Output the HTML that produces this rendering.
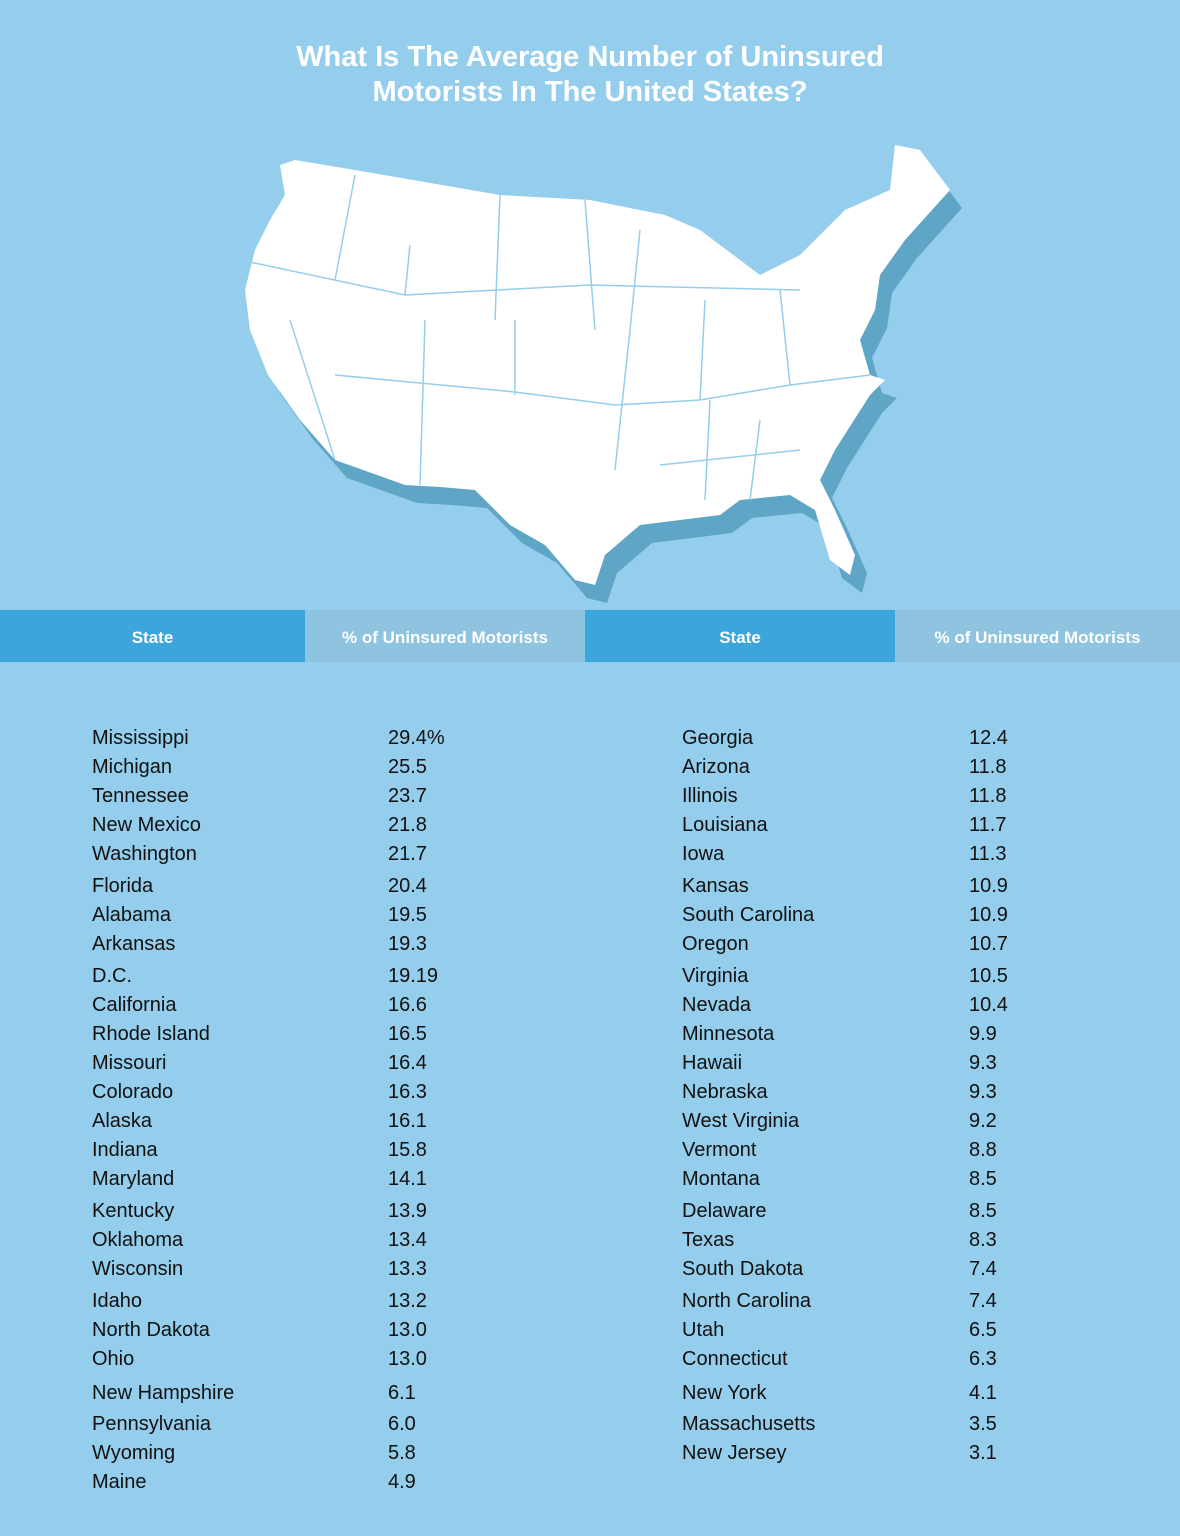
<!DOCTYPE html>
<html><head><meta charset="utf-8"><style>
body{margin:0;width:1180px;height:1536px;background:#95CEEC;position:relative;overflow:hidden;font-family:"Liberation Sans",sans-serif;}
.t{position:absolute;left:0;width:1180px;text-align:center;color:#fff;font-weight:bold;font-size:29px;line-height:35px;top:40px;}
.h{position:absolute;top:610px;height:52px;line-height:55px;color:#fff;font-size:17px;font-weight:bold;text-align:center;}
.r{position:absolute;font-size:20px;color:#111;line-height:20px;}
</style></head><body>
<div class="t">What Is The Average Number of Uninsured<br>Motorists In The United States?</div>
<svg width="1180" height="620" style="position:absolute;left:0;top:0">
<g transform="translate(12,18)"><polygon fill="#5FA5C6" points="295,160 355,170 500,195 590,200 665,215 700,230 760,275 800,255 845,210 890,190 895,145 920,150 950,190 905,240 880,275 875,310 860,340 870,375 885,380 870,395 835,450 820,480 835,510 855,555 850,575 830,560 815,510 790,495 740,500 720,515 680,520 640,525 605,555 595,585 575,580 545,545 510,525 475,490 440,487 405,485 335,460 300,420 268,375 250,330 245,290 255,250 270,220 285,195 280,165"/></g>
<polygon fill="#fff" points="295,160 355,170 500,195 590,200 665,215 700,230 760,275 800,255 845,210 890,190 895,145 920,150 950,190 905,240 880,275 875,310 860,340 870,375 885,380 870,395 835,450 820,480 835,510 855,555 850,575 830,560 815,510 790,495 740,500 720,515 680,520 640,525 605,555 595,585 575,580 545,545 510,525 475,490 440,487 405,485 335,460 300,420 268,375 250,330 245,290 255,250 270,220 285,195 280,165"/>
<g stroke="#95CEEC" stroke-width="1.5" fill="none">
<path d="M250,262 L405,295 L590,285 M290,320 L335,460 M355,175 L335,280 M410,245 L405,295 M500,195 L495,320 M585,200 L595,330 M425,320 L420,485 M335,375 L515,392 L615,405 L700,400 L790,385 L870,375 M515,320 L515,395 M640,230 L630,330 L615,470 M705,300 L700,400 M780,290 L790,385 M590,285 L800,290 M660,465 L800,450 M710,400 L705,500 M760,420 L750,500"/>
</g>
</svg>
<div class="h" style="left:0;width:305px;background:#3CA5DC">State</div>
<div class="h" style="left:305px;width:280px;background:#8EC4E0">% of Uninsured Motorists</div>
<div class="h" style="left:585px;width:310px;background:#3CA5DC">State</div>
<div class="h" style="left:895px;width:285px;background:#8EC4E0">% of Uninsured Motorists</div>
<div id="rows"></div>
<script>
var L=[["Mississippi","29.4%"],["Michigan","25.5"],["Tennessee","23.7"],["New Mexico","21.8"],["Washington","21.7"],["Florida","20.4"],["Alabama","19.5"],["Arkansas","19.3"],["D.C.","19.19"],["California","16.6"],["Rhode Island","16.5"],["Missouri","16.4"],["Colorado","16.3"],["Alaska","16.1"],["Indiana","15.8"],["Maryland","14.1"],["Kentucky","13.9"],["Oklahoma","13.4"],["Wisconsin","13.3"],["Idaho","13.2"],["North Dakota","13.0"],["Ohio","13.0"],["New Hampshire","6.1"],["Pennsylvania","6.0"],["Wyoming","5.8"],["Maine","4.9"]];
var R=[["Georgia","12.4"],["Arizona","11.8"],["Illinois","11.8"],["Louisiana","11.7"],["Iowa","11.3"],["Kansas","10.9"],["South Carolina","10.9"],["Oregon","10.7"],["Virginia","10.5"],["Nevada","10.4"],["Minnesota","9.9"],["Hawaii","9.3"],["Nebraska","9.3"],["West Virginia","9.2"],["Vermont","8.8"],["Montana","8.5"],["Delaware","8.5"],["Texas","8.3"],["South Dakota","7.4"],["North Carolina","7.4"],["Utah","6.5"],["Connecticut","6.3"],["New York","4.1"],["Massachusetts","3.5"],["New Jersey","3.1"]];
var Y=[738,767,796,825,854,886,915,944,976,1005,1034,1063,1092,1121,1150,1179,1211,1240,1269,1301,1330,1359,1393,1424,1453,1482];
var h="";
function add(a,x1,x2){a.forEach(function(r,i){var y=Y[i]-10;h+='<div class="r" style="left:'+x1+'px;top:'+y+'px">'+r[0]+'</div><div class="r" style="left:'+x2+'px;top:'+y+'px">'+r[1]+'</div>';});}
add(L,92,388);add(R,682,969);
document.getElementById("rows").innerHTML=h;
</script>
</body></html>
